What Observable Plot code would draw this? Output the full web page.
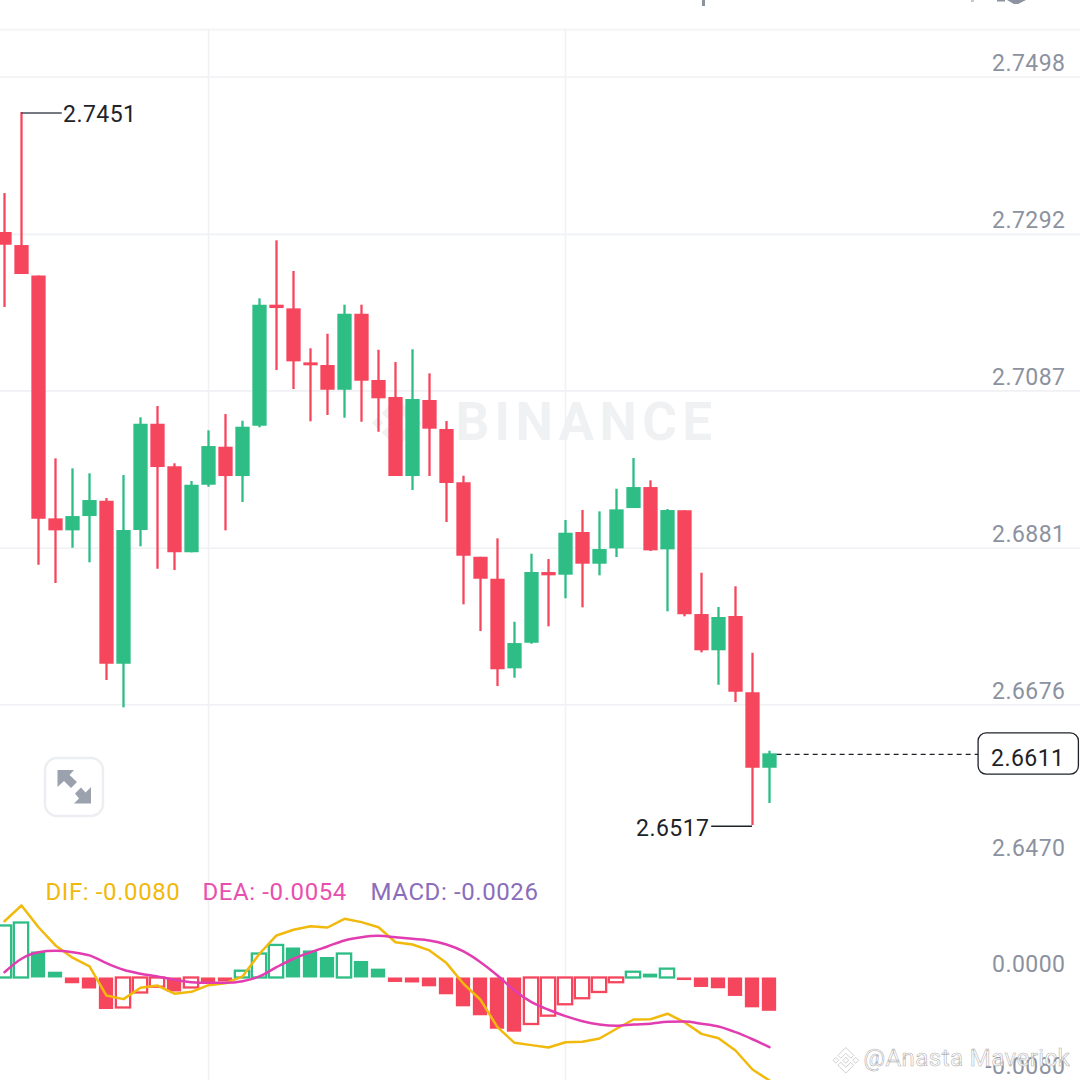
<!DOCTYPE html>
<html><head><meta charset="utf-8">
<script src="https://cdn.jsdelivr.net/npm/d3@7"></script>
<script src="https://cdn.jsdelivr.net/npm/@observablehq/plot@0.6"></script>
<style>
html,body{margin:0;padding:0;background:#fff;width:1080px;height:1080px;overflow:hidden}
#wrap{position:relative;width:1080px;height:1080px;overflow:hidden}
#wrap>*{position:absolute;left:0}
svg text{letter-spacing:.45px}
svg .wm text{letter-spacing:5.3px}
svg .leg text{letter-spacing:.6px}
</style></head><body><div id="wrap"></div>
<script>
const opens=[2.72944,2.72773,2.72374,2.69194,2.69037,2.69224,2.69425,2.67290,2.69041,2.70433,2.69875,2.68749,2.69634,2.70132,2.69748,2.70407,2.71992,2.71944,2.71237,2.71202,2.70878,2.71874,2.71006,2.70783,2.69748,2.70744,2.70364,2.69666,2.68691,2.68403,2.67230,2.67565,2.68491,2.68456,2.69015,2.68600,2.68801,2.69329,2.69604,2.68788,2.69299,2.67941,2.67466,2.67915,2.66916,2.65928];
const closes=[2.72777,2.72394,2.69189,2.69037,2.69224,2.69434,2.67290,2.69041,2.70433,2.69866,2.68749,2.69634,2.70141,2.69748,2.70394,2.71992,2.71948,2.71250,2.71198,2.70878,2.71874,2.70996,2.70766,2.69748,2.70757,2.70368,2.69657,2.68705,2.68403,2.67217,2.67561,2.68491,2.68448,2.69006,2.68600,2.68792,2.69312,2.69604,2.68775,2.69303,2.67937,2.67466,2.67902,2.66923,2.65928,2.66117];
const highs=[2.73454,2.74515,2.72374,2.69980,2.69849,2.69784,2.69460,2.69761,2.70517,2.70665,2.69915,2.69683,2.70347,2.70560,2.70472,2.72075,2.72835,2.72433,2.71421,2.71612,2.71992,2.71992,2.71402,2.71241,2.71408,2.71093,2.70469,2.69752,2.68691,2.68932,2.67840,2.68731,2.68661,2.69172,2.69303,2.69286,2.69582,2.69984,2.69692,2.69316,2.69299,2.68482,2.68033,2.68304,2.67434,2.66151];
const lows=[2.71962,2.72394,2.68587,2.68347,2.68809,2.68618,2.67077,2.66719,2.68828,2.68534,2.68517,2.68749,2.69608,2.69037,2.69408,2.70386,2.71136,2.70888,2.70465,2.70547,2.70512,2.70459,2.70328,2.69748,2.69565,2.69748,2.69146,2.68068,2.67718,2.66998,2.67107,2.67552,2.67780,2.68147,2.68029,2.68448,2.68687,2.69329,2.68766,2.67976,2.67911,2.67439,2.67015,2.66789,2.65178,2.65466];
const macdBars=[.00406,.00429,.00203,.00045,-.00045,-.00086,-.00246,-.00234,-.00117,-.00072,-.00109,-.00078,-.00035,-.00031,.00053,.00187,.00254,.00234,.00211,.00160,.00187,.00129,.00069,-.00035,-.00039,-.00069,-.00131,-.00225,-.00295,-.00400,-.00423,-.00363,-.00298,-.00209,-.00162,-.00113,-.00037,.00045,.00030,.00069,-.00020,-.00074,-.00084,-.00144,-.00233,-.00260];
const hollowBars=[0,1,7,8,9,11,14,15,16,20,31,32,33,34,35,36,37,39];
const difLine=[.00443,.00566,.00396,.00254,.00158,.00090,-.00137,-.00165,-.00076,-.00059,-.00123,-.00108,-.00056,-.00041,.00012,.00189,.00332,.00376,.00404,.00394,.00462,.00436,.00396,.00279,.00261,.00215,.00116,-.00045,-.00170,-.00384,-.00506,-.00524,-.00542,-.00501,-.00498,-.00472,-.00396,-.00324,-.00322,-.00279,-.00345,-.00436,-.00470,-.00566,-.00714,-.00800];
const deaLine=[.00045,.00150,.00201,.00212,.00201,.00176,.00116,.00064,.00033,.00012,-.00014,-.00033,-.00037,-.00037,-.00025,.00012,.00084,.00150,.00201,.00246,.00293,.00318,.00329,.00318,.00306,.00293,.00261,.00207,.00123,.00020,-.00098,-.00189,-.00248,-.00298,-.00337,-.00363,-.00373,-.00363,-.00357,-.00342,-.00340,-.00357,-.00379,-.00423,-.00478,-.00540];
const priceTicks=[2.7498,2.7292,2.7087,2.6881,2.6676,2.6470];
const macdTicks=[0,-0.0080];
const verticalGrid=[12,33];
const paneTop=2.7560;
const lastPrice=2.6611, highLabel=2.7451, lowLabel=2.6517;
const legendTexts=["DIF: -0.0080","DEA: -0.0054","MACD: -0.0026"];

const GREEN="#2EBD85",RED="#F6465D",GRID="#F0F1F5",AXIS="#8C92A0",INK="#1E2329";
const FONT="Roboto, sans-serif";
const logoPath="M9.79 13.44 16 7.24l6.21 6.2 3.61-3.6L16 0 6.18 9.84l3.61 3.6zM0 16l3.61-3.6L7.22 16l-3.61 3.6zM9.79 18.56 16 24.76l6.21-6.2 3.61 3.6L16 32l-9.82-9.84zM24.78 16l3.61-3.6L32 16l-3.61 3.6zM19.66 16 16 12.33l-2.71 2.71-.31.31-.64.65L16 19.67z";

const candles=opens.map((o,i)=>({i,open:o,close:closes[i],high:highs[i],low:lows[i],color:closes[i]>=o?GREEN:RED}));
const bars=macdBars.map((v,i)=>({i,v,hollow:hollowBars.includes(i),color:v>=0?GREEN:RED}));
const xDomain=[-4/17,1076/17];
const fmt=d=>d.toFixed(4);
const base={width:1080,marginTop:0,marginRight:0,marginBottom:0,marginLeft:0,
  x:{domain:xDomain,range:[0,1080],axis:null},
  style:{fontFamily:FONT,background:"transparent",overflow:"hidden"}};

const logoMark=(tx,ty,s,fill,stroke)=>()=>{
  const g=d3.create("svg:g").attr("transform",`translate(${tx},${ty}) scale(${s})`);
  g.append("path").attr("d",logoPath).attr("fill",fill).attr("stroke",stroke).attr("stroke-width",stroke==="none"?0:1);
  return g.node();
};

const pricePlot=Plot.plot({...base,height:861,
  y:{domain:[2.64707,2.75982],range:[861,0]},
  marks:[
    Plot.gridY(priceTicks,{x1:xDomain[0],x2:xDomain[1],stroke:GRID,strokeOpacity:1,strokeWidth:1.6}),
    Plot.ruleY([paneTop],{stroke:"#F5F6F8",strokeWidth:2.5}),
    Plot.ruleX(verticalGrid,{y1:paneTop,y2:2.64707,stroke:GRID,strokeWidth:1.6}),
    logoMark(372,398,1.56,"#F0F1F3","none"),
    Plot.text(["BINANCE"],{className:"wm",frameAnchor:"top-left",dx:455,dy:423,textAnchor:"start",lineAnchor:"middle",fontSize:53,fontWeight:700,fill:"#F0F1F3"}),
    Plot.ruleX(candles,{x:"i",y1:"low",y2:"high",stroke:"color",strokeWidth:2.3}),
    Plot.ruleX(candles,{x:"i",y1:"open",y2:"close",stroke:"color",strokeWidth:14.3}),
    Plot.axisY(priceTicks,{anchor:"right",tickSize:0,tickPadding:0,tickFormat:fmt,textAnchor:"end",dx:-15,dy:-13.5,color:AXIS,fontSize:23,label:null}),
    Plot.ruleY([highLabel],{x1:1,x2:3.4,stroke:"#474D57",strokeWidth:1.5}),
    Plot.text([highLabel],{x:1,y:d=>d,text:fmt,dx:41.5,dy:2,textAnchor:"start",fontSize:23,fill:INK}),
    Plot.ruleY([lowLabel],{x1:44,x2:41.6,stroke:"#1E2329",strokeWidth:1.5}),
    Plot.text([lowLabel],{x:44,y:d=>d,text:fmt,dx:-43,dy:2,textAnchor:"end",fontSize:23,fill:INK}),
    Plot.ruleY([lastPrice],{x1:45.45,x2:57.3,stroke:INK,strokeWidth:1.2,strokeDasharray:"5,4"}),
    Plot.rect([lastPrice],{x1:57.3,x2:63.2,y1:d=>d+.00275,y2:d=>d-.00265,fill:"#fff",stroke:INK,strokeWidth:1.3,rx:8}),
    Plot.text([lastPrice],{y:d=>d,text:fmt,frameAnchor:"right",dx:-16,dy:4,textAnchor:"end",fontSize:23,fill:INK})
  ]});

const legendXs=[45,202,370],legendColors=["#F0B90B","#E84FAE","#8A6DBB"];
const macdPlot=Plot.plot({...base,height:219,
  y:{domain:[-0.0080,0.00909],range:[219,0]},
  marks:[
    Plot.ruleX(verticalGrid,{stroke:GRID,strokeWidth:1.6}),
    Plot.rect(bars.filter(d=>!d.hollow),{x1:d=>d.i-.42,x2:d=>d.i+.42,y1:0,y2:"v",fill:"color"}),
    Plot.rect(bars.filter(d=>d.hollow),{x1:d=>d.i-.42,x2:d=>d.i+.42,y1:0,y2:"v",fill:"#fff",stroke:"color",strokeWidth:2.3}),
    Plot.axisY(macdTicks,{anchor:"right",tickSize:0,tickPadding:0,tickFormat:fmt,textAnchor:"end",dx:-15,dy:-13.5,color:AXIS,fontSize:23,label:null}),
    Plot.line(difLine,{x:(d,i)=>i,y:d=>d,stroke:"#F0B90B",strokeWidth:2.5}),
    Plot.line(deaLine,{x:(d,i)=>i,y:d=>d,stroke:"#E23DB0",strokeWidth:2.5,curve:"monotone-x"}),
    ...legendTexts.map((t,k)=>Plot.text([t],{className:"leg",frameAnchor:"top-left",dx:legendXs[k],dy:31,textAnchor:"start",lineAnchor:"middle",fontSize:24,fill:legendColors[k]})),
    logoMark(833,186.5,.8,"#fff","#C4C4C4"),
    Plot.text(["@Anasta Maverick"],{frameAnchor:"top-left",dx:863,dy:197,textAnchor:"start",lineAnchor:"middle",fontSize:24,fill:"#fff",stroke:"#B4B4B4",strokeWidth:.6,paintOrder:"normal"})
  ]});
pricePlot.style.top="0px";
macdPlot.style.top="861px";
const wrap=document.getElementById("wrap");
wrap.append(pricePlot,macdPlot);

// fixed UI chrome of the screenshot: expand button and cropped toolbar bits
const ui=d3.create("svg").attr("width",1080).attr("height",1080).style("top","0").style("pointer-events","none");
ui.append("rect").attr("x",45).attr("y",758).attr("width",58).attr("height",58).attr("rx",12).attr("fill","#fff").attr("stroke","#ECEEF1").attr("stroke-width",2.5);
ui.append("polygon").attr("points","57.5,770 74,770 69.5,775 77,782 71,788 64,781 57.5,787").attr("fill","#9BA1AD");
ui.append("polygon").attr("points","91,803.5 74,803.5 79,798.5 75,793.5 81,787.5 85.5,792.5 91,787").attr("fill","#9BA1AD");
ui.append("rect").attr("x",702).attr("y",0).attr("width",3).attr("height",6).attr("fill","#8C92A0");
ui.append("rect").attr("x",971).attr("y",0).attr("width",3).attr("height",2).attr("fill","#C4C8D0");
ui.append("polygon").attr("points","1007,0 1026,0 1018,4 1014,4").attr("fill","#8C92A0");
ui.append("rect").attr("x",997).attr("y",0).attr("width",8).attr("height",1.5).attr("fill","#8C92A0");
wrap.append(ui.node());
</script></body></html>
